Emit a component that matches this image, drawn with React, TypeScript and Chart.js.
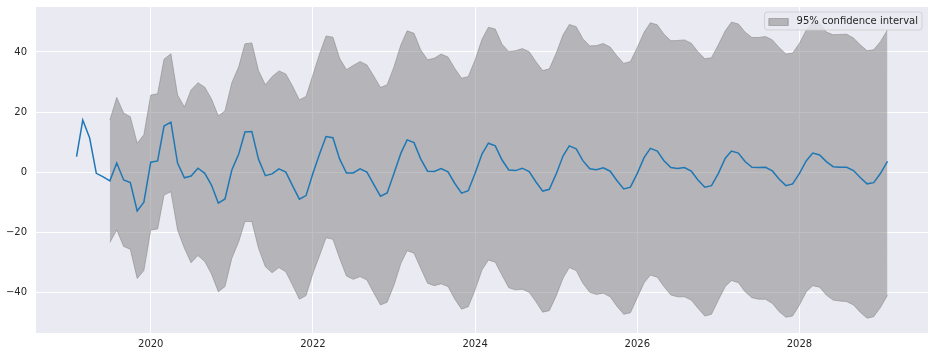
import React, { useEffect, useRef } from 'react';
import { Chart, registerables } from 'chart.js';

Chart.register(...registerables);

// ---- data ----
const START_YEAR = 2019;
const START_MONTH = 2; // February 2019, monthly points
const CI_START = 5; // index of the first month that has a confidence interval (July 2019)

const forecast = [
  5.2, 17.4, 11.4, -0.3, -1.5, -2.8, 3.1, -2.5, -3.4, -12.8, -9.9, 3.4,
  3.8, 15.4, 16.7, 3.1, -1.8, -1.2, 1.4, -0.3, -4.2, -10.2, -8.8, 0.8,
  6.1, 13.4, 13.6, 4.4, -1.1, -0.5, 1.2, 0.1, -4.4, -8.9, -7.7, -0.3,
  6.4, 11.9, 11.5, 4.5, -0.2, -0.2, 1.2, 0.1, -3.9, -7.9, -6.8, -0.3,
  6.4, 10.8, 9.9, 4.5, 0.4, 0.3, 1.3, 0.2, -3.6, -6.9, -6.1, -0.3,
  6.1, 9.7, 8.8, 4.2, 0.8, 0.6, 1.4, 0.3, -3.1, -6.2, -5.6, -0.5,
  5.5, 8.8, 7.8, 3.9, 1.2, 0.9, 1.5, 0.4, -2.7, -5.5, -4.9, -0.3,
  5.0, 8.0, 7.1, 3.9, 1.6, 1.3, 1.6, 0.4, -2.5, -4.9, -4.4, -0.3,
  4.7, 7.1, 6.4, 3.6, 1.7, 1.6, 1.7, 0.5, -2.2, -4.4, -3.8, -0.3,
  3.9, 6.4, 5.8, 3.6, 1.9, 1.7, 1.7, 0.6, -1.7, -3.8, -3.4, -0.3,
  3.7,
];

const upper95 = [
  17.4, 24.9, 19.7, 18.5, 9.7, 12.5, 25.7,
  26.1, 37.6, 39.4, 25.7, 21.7, 27.4, 29.8, 28.3, 24.4, 18.8, 20.4, 29.8,
  35.1, 42.7, 43.0, 33.8, 29.1, 31.8, 33.7, 32.7, 28.7, 24.1, 25.2, 32.4,
  39.6, 45.3, 44.9, 37.9, 34.1, 35.5, 36.8, 35.7, 32.1, 28.2, 29.1, 35.1,
  42.4, 47.0, 46.2, 40.7, 37.4, 37.9, 39.3, 38.3, 34.6, 31.3, 31.8, 37.4,
  44.2, 48.2, 47.6, 42.6, 40.1, 40.4, 41.1, 40.1, 36.8, 33.8, 34.4, 39.6,
  45.7, 49.1, 48.4, 44.4, 42.0, 42.1, 42.8, 41.6, 38.7, 36.2, 36.8, 41.5,
  46.6, 49.7, 49.0, 45.9, 43.7, 43.8, 44.0, 42.9, 40.1, 37.7, 38.1, 42.4,
  47.0, 49.9, 49.3, 46.6, 44.8, 44.8, 45.1, 44.0, 41.5, 39.3, 39.6, 42.9,
  47.3, 50.0, 49.5, 46.6, 45.7, 45.8, 45.9, 44.6, 42.4, 40.4, 40.7, 43.5,
  47.3,
];

const lower95 = [
  -23.3, -19.1, -24.6, -25.5, -35.2, -32.6, -19.1,
  -18.8, -7.5, -6.4, -19.1, -25.2, -30.0, -27.6, -29.6, -33.7, -39.6, -37.9, -28.5,
  -23.0, -16.3, -16.3, -25.2, -31.3, -33.3, -31.6, -33.0, -37.4, -42.1, -40.9, -33.5,
  -27.4, -21.7, -22.2, -28.5, -34.4, -35.5, -34.6, -35.7, -39.9, -44.0, -43.1, -37.4,
  -30.2, -26.0, -26.8, -31.8, -36.8, -37.6, -37.0, -37.9, -42.0, -45.4, -44.6, -39.0,
  -32.4, -29.1, -29.8, -34.1, -38.3, -39.0, -38.8, -39.8, -42.9, -46.4, -45.9, -41.0,
  -35.1, -31.6, -32.6, -36.8, -39.8, -40.5, -40.1, -41.3, -44.4, -47.1, -46.6, -41.6,
  -36.6, -34.1, -34.8, -37.9, -40.7, -41.3, -41.3, -42.4, -45.1, -47.7, -47.1, -42.4,
  -37.9, -35.9, -36.6, -39.6, -41.6, -42.1, -42.1, -43.5, -46.2, -48.1, -47.7, -44.0,
  -39.6, -37.6, -38.1, -40.7, -42.4, -42.7, -42.9, -44.0, -46.4, -48.4, -47.9, -44.8,
  -40.8,
];

const xTicks = [2020, 2022, 2024, 2026, 2028];
const yTicks = [-40, -20, 0, 20, 40];
const legendLabel = '95% confidence interval';

// ---- helpers ----
function monthToYear(i: number): number {
  const total = START_MONTH - 1 + i;
  const y = START_YEAR + Math.floor(total / 12);
  const m = total % 12;
  const t = Date.UTC(y, m, 1);
  const t0 = Date.UTC(y, 0, 1);
  const t1 = Date.UTC(y + 1, 0, 1);
  return y + (t - t0) / (t1 - t0);
}

const xs = forecast.map((_, i) => monthToYear(i));
const xSpan = xs[xs.length - 1] - xs[0];
const X_MIN = xs[0] - 0.05 * xSpan;
const X_MAX = xs[xs.length - 1] + 0.05 * xSpan;
const allY = [...forecast, ...upper95, ...lower95];
const yLo = Math.min(...allY);
const yHi = Math.max(...allY);
const Y_MIN = yLo - 0.05 * (yHi - yLo);
const Y_MAX = yHi + 0.05 * (yHi - yLo);

const FONT = '"DejaVu Sans", "Liberation Sans", sans-serif';
const TEXT = '#262626';
const BAND = 'rgba(128,128,128,0.5)';

const bgPlugin = {
  id: 'bgPlugin',
  beforeDraw(chart: any) {
    const { ctx, chartArea, width, height } = chart;
    ctx.save();
    ctx.fillStyle = '#ffffff';
    ctx.fillRect(0, 0, width, height);
    ctx.fillStyle = '#EAEAF2';
    ctx.fillRect(chartArea.left, chartArea.top, chartArea.right - chartArea.left, chartArea.bottom - chartArea.top);
    ctx.restore();
  },
};

const legendPlugin = {
  id: 'ciLegend',
  afterDatasetsDraw(chart: any) {
    const { ctx, chartArea } = chart;
    ctx.save();
    ctx.font = `10px ${FONT}`;
    const tw = ctx.measureText(legendLabel).width;
    const w = 4 + 20 + 8 + tw + 4;
    const h = 18;
    const right = chartArea.right - 6;
    const left = right - w;
    const top = chartArea.top + 5;
    const r = 2.5;
    ctx.beginPath();
    ctx.moveTo(left + r, top);
    ctx.lineTo(right - r, top);
    ctx.arcTo(right, top, right, top + r, r);
    ctx.lineTo(right, top + h - r);
    ctx.arcTo(right, top + h, right - r, top + h, r);
    ctx.lineTo(left + r, top + h);
    ctx.arcTo(left, top + h, left, top + h - r, r);
    ctx.lineTo(left, top + r);
    ctx.arcTo(left, top, left + r, top, r);
    ctx.closePath();
    ctx.fillStyle = 'rgba(234,234,242,0.8)';
    ctx.fill();
    ctx.strokeStyle = 'rgba(204,204,204,0.8)';
    ctx.lineWidth = 1;
    ctx.stroke();
    // patch
    const py = top + h / 2 + 1;
    ctx.fillStyle = BAND;
    ctx.fillRect(left + 4, py - 3.5, 20, 7);
    ctx.strokeStyle = BAND;
    ctx.strokeRect(left + 4.5, py - 3.5, 19, 7);
    // text
    ctx.fillStyle = TEXT;
    ctx.textBaseline = 'middle';
    ctx.textAlign = 'left';
    ctx.fillText(legendLabel, left + 32, top + h / 2 + 0.5);
    ctx.restore();
  },
};

export default function App() {
  const ref = useRef<HTMLCanvasElement | null>(null);

  useEffect(() => {
    if (!ref.current) return;
    const lineData = forecast.map((v, i) => ({ x: xs[i], y: v }));
    const upData = upper95.map((v, k) => ({ x: xs[k + CI_START], y: v }));
    const loData = lower95.map((v, k) => ({ x: xs[k + CI_START], y: v }));

    const chart = new Chart(ref.current, {
      type: 'line',
      data: {
        datasets: [
          {
            label: 'forecast',
            data: lineData,
            borderColor: '#1f77b4',
            borderWidth: 1.5,
            pointRadius: 0,
            tension: 0,
            fill: false,
          },
          {
            label: legendLabel,
            data: upData,
            borderColor: BAND,
            borderWidth: 1,
            backgroundColor: BAND,
            pointRadius: 0,
            tension: 0,
            fill: '+1',
          },
          {
            label: 'lower',
            data: loData,
            borderColor: BAND,
            borderWidth: 1,
            pointRadius: 0,
            tension: 0,
            fill: false,
          },
        ],
      },
      options: {
        animation: false,
        responsive: false,
        maintainAspectRatio: false,
        devicePixelRatio: 1,
        events: [],
        layout: { padding: { left: 0, right: 7, top: 7, bottom: 0 } },
        plugins: {
          legend: { display: false },
          tooltip: { enabled: false },
          filler: { propagate: false },
        },
        scales: {
          x: {
            type: 'linear',
            min: X_MIN,
            max: X_MAX,
            border: { display: false },
            grid: { color: '#ffffff', lineWidth: 1, drawTicks: false },
            ticks: {
              padding: 5,
              color: TEXT,
              font: { family: FONT, size: 10 },
              maxRotation: 0,
              autoSkip: false,
              callback: (v: any) => String(v),
            },
            afterBuildTicks: (s: any) => {
              s.ticks = xTicks.map((v) => ({ value: v }));
            },
            afterFit: (s: any) => {
              s.height = 24;
              s.paddingLeft = 0;
              s.paddingRight = 0;
            },
          },
          y: {
            type: 'linear',
            min: Y_MIN,
            max: Y_MAX,
            border: { display: false },
            grid: { color: '#ffffff', lineWidth: 1, drawTicks: false },
            ticks: {
              padding: 9,
              color: TEXT,
              font: { family: FONT, size: 10 },
              autoSkip: false,
              callback: (v: any) => (v < 0 ? '\u2212' + Math.abs(v) : String(v)),
            },
            afterBuildTicks: (s: any) => {
              s.ticks = yTicks.map((v) => ({ value: v }));
            },
            afterFit: (s: any) => {
              s.width = 36;
              s.paddingTop = 0;
              s.paddingBottom = 0;
            },
          },
        },
      },
      plugins: [bgPlugin, legendPlugin],
    } as any);

    return () => chart.destroy();
  }, []);

  return (
    <div style={{ position: 'fixed', left: 0, top: 0, width: 935, height: 357, background: '#fff' }}>
      <canvas ref={ref} width={935} height={357} style={{ display: 'block', width: 935, height: 357 }} />
    </div>
  );
}
